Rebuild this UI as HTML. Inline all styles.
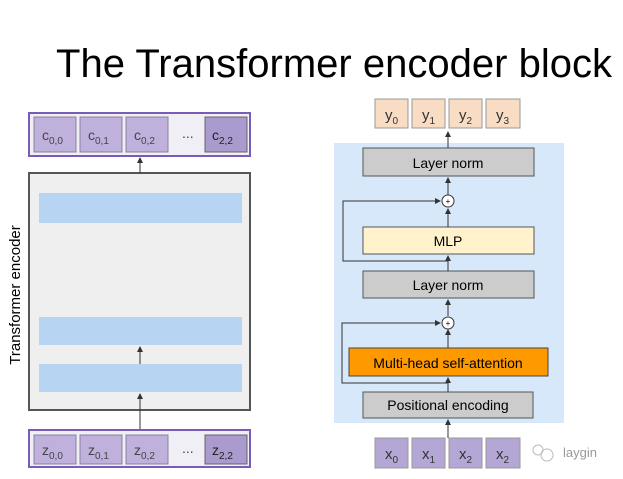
<!DOCTYPE html>
<html><head><style>body{margin:0;background:#fff}svg{display:block}text{font-family:"Liberation Sans",Arial,sans-serif}</style></head>
<body>
<svg width="623" height="479" viewBox="0 0 623 479" xmlns="http://www.w3.org/2000/svg">
<defs><marker id="a" markerWidth="6" markerHeight="6" refX="3" refY="3" orient="auto"><path d="M0,0 L6,3 L0,6z" fill="#333"/></marker></defs>
<text x="56" y="77" font-size="40" textLength="556" lengthAdjust="spacingAndGlyphs">The Transformer encoder block</text>

<!-- left -->
<rect x="29" y="113" width="221" height="43" fill="#f1eff6" stroke="#7a5cb8" stroke-width="2"/>
<g fill="#bfb0dc" stroke="#8a80a0">
<rect x="34" y="117" width="42" height="35"/><rect x="80" y="117" width="42" height="35"/><rect x="126" y="117" width="42" height="35"/>
<rect x="205" y="117" width="42" height="35" fill="#ab9acd" stroke="#666"/></g>
<g font-size="14" fill="#444"><text x="42" y="140">c<tspan font-size="10" dy="4">0,0</tspan></text><text x="88" y="140">c<tspan font-size="10" dy="4">0,1</tspan></text><text x="134" y="140">c<tspan font-size="10" dy="4">0,2</tspan></text><text x="182" y="138">...</text><text x="212" y="140" fill="#222">c<tspan font-size="10" dy="4">2,2</tspan></text></g>

<rect x="29" y="173" width="221" height="237" fill="#efefef" stroke="#555" stroke-width="2"/>
<g fill="#b7d4f2"><rect x="39" y="193" width="203" height="30"/><rect x="39" y="317" width="203" height="28"/><rect x="39" y="364" width="203" height="28"/></g>
<text transform="translate(20,295) rotate(-90)" font-size="15" text-anchor="middle">Transformer encoder</text>
<line x1="140" y1="173" x2="140" y2="160" stroke="#333" marker-end="url(#a)"/>
<line x1="140" y1="364" x2="140" y2="349" stroke="#333" marker-end="url(#a)"/>
<line x1="140" y1="430" x2="140" y2="396" stroke="#333" marker-end="url(#a)"/>

<rect x="29" y="430" width="221" height="37" fill="#f1eff6" stroke="#7a5cb8" stroke-width="2"/>
<g fill="#bfb0dc" stroke="#8a80a0">
<rect x="34" y="435" width="42" height="29"/><rect x="80" y="435" width="42" height="29"/><rect x="126" y="435" width="42" height="29"/>
<rect x="205" y="435" width="42" height="29" fill="#ab9acd" stroke="#666"/></g>
<g font-size="14" fill="#444"><text x="42" y="455">z<tspan font-size="10" dy="4">0,0</tspan></text><text x="88" y="455">z<tspan font-size="10" dy="4">0,1</tspan></text><text x="134" y="455">z<tspan font-size="10" dy="4">0,2</tspan></text><text x="182" y="453">...</text><text x="212" y="455" fill="#222">z<tspan font-size="10" dy="4">2,2</tspan></text></g>

<!-- right -->
<rect x="334" y="143" width="230" height="280" fill="#d7e8fb"/>
<g fill="#f9dcc4" stroke="#999"><rect x="375" y="99" width="33" height="29"/><rect x="412" y="99" width="33" height="29"/><rect x="449" y="99" width="33" height="29"/><rect x="486" y="99" width="34" height="29"/></g>
<g font-size="15" fill="#333"><text x="385" y="120">y<tspan font-size="10" dy="4">0</tspan></text><text x="422" y="120">y<tspan font-size="10" dy="4">1</tspan></text><text x="459" y="120">y<tspan font-size="10" dy="4">2</tspan></text><text x="496" y="120">y<tspan font-size="10" dy="4">3</tspan></text></g>

<rect x="363" y="148" width="171" height="28" fill="#cccccc" stroke="#555"/>
<text x="448" y="168" font-size="14" text-anchor="middle">Layer norm</text>
<rect x="363" y="227" width="171" height="27" fill="#fff2cc" stroke="#555"/>
<text x="448" y="246" font-size="14" text-anchor="middle">MLP</text>
<rect x="363" y="271" width="171" height="27" fill="#cccccc" stroke="#555"/>
<text x="448" y="290" font-size="14" text-anchor="middle">Layer norm</text>
<rect x="349" y="348" width="199" height="28" fill="#ff9900" stroke="#444"/>
<text x="448" y="368" font-size="14" text-anchor="middle">Multi-head self-attention</text>
<rect x="363" y="392" width="170" height="26" fill="#cccccc" stroke="#555"/>
<text x="448" y="410" font-size="14" text-anchor="middle">Positional encoding</text>

<g stroke="#333" fill="none">
<line x1="448" y1="148" x2="448" y2="134" marker-end="url(#a)"/>
<line x1="448" y1="195" x2="448" y2="180" marker-end="url(#a)"/>
<line x1="448" y1="227" x2="448" y2="211" marker-end="url(#a)"/>
<line x1="448" y1="271" x2="448" y2="258" marker-end="url(#a)"/>
<line x1="448" y1="316" x2="448" y2="302" marker-end="url(#a)"/>
<line x1="448" y1="348" x2="448" y2="332" marker-end="url(#a)"/>
<line x1="448" y1="392" x2="448" y2="380" marker-end="url(#a)"/>
<line x1="448" y1="438" x2="448" y2="422" marker-end="url(#a)"/>
<polyline points="448,261 343,261 343,201 438,201" marker-end="url(#a)"/>
<polyline points="448,383 342,383 342,323 438,323" marker-end="url(#a)"/>
<circle cx="448" cy="201" r="6" fill="#fff"/><circle cx="448" cy="323" r="6" fill="#fff"/>
</g>
<g font-size="8" text-anchor="middle"><text x="448" y="204">+</text><text x="448" y="326">+</text></g>

<g fill="#b4a7d6" stroke="#999"><rect x="375" y="438" width="33" height="30"/><rect x="412" y="438" width="33" height="30"/><rect x="449" y="438" width="33" height="30"/><rect x="486" y="438" width="34" height="30"/></g>
<g font-size="15" fill="#333"><text x="385" y="459">x<tspan font-size="10" dy="4">0</tspan></text><text x="422" y="459">x<tspan font-size="10" dy="4">1</tspan></text><text x="459" y="459">x<tspan font-size="10" dy="4">2</tspan></text><text x="496" y="459">x<tspan font-size="10" dy="4">2</tspan></text></g>

<g stroke="#bbb" fill="none"><circle cx="538" cy="450" r="5"/><circle cx="547" cy="455" r="6"/></g>
<text x="563" y="457" font-size="13" fill="#999">laygin</text>
</svg>
</body></html>
